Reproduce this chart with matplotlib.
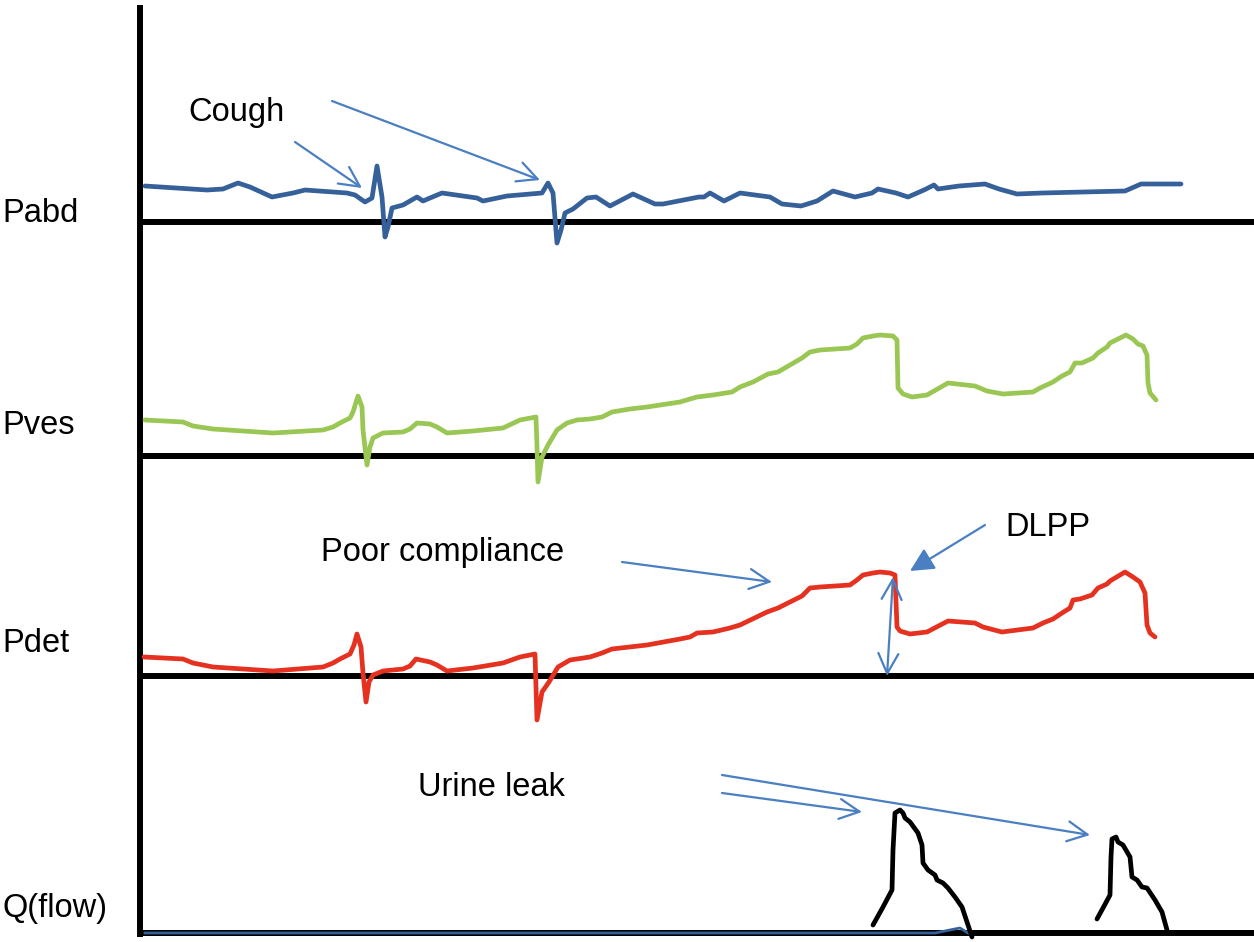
import matplotlib.pyplot as plt

# --- traces (x, y in picture pixels, y downwards) ---
pabd_x = [145, 207, 223, 238, 250, 272, 293, 305, 347, 355, 365, 372, 377, 382, 385, 388, 392,
          403, 417, 423, 430, 442, 477, 483, 507, 542, 548, 553, 557, 561, 565, 573, 587,
          596, 610, 633, 655, 663, 699, 704, 710, 724, 740, 770, 782, 801, 817, 833, 855,
          872, 878, 896, 908, 924, 934, 938, 959, 985, 999, 1017, 1042, 1125, 1141, 1181]
pabd_y = [186, 190, 189, 183, 187, 197, 193, 190, 193, 195, 202, 198, 166, 197, 237, 227, 208,
          205, 197, 201, 198, 193, 198, 201, 196, 193, 183, 193, 243, 230, 213, 209, 198,
          197, 206, 194, 204, 204, 197, 197, 193, 201, 193, 197, 204, 206, 201, 191, 197,
          193, 189, 193, 197, 190, 185, 189, 186, 184, 189, 194, 193, 191, 184, 184]

pves_x = [145, 183, 193, 213, 273, 323, 333, 340, 350, 353, 358, 362, 363, 367, 370, 373, 383,
          403, 410, 417, 430, 437, 447, 473, 503, 520, 536, 537, 538, 542, 548, 557, 567,
          577, 590, 602, 612, 630, 647, 680, 690, 697, 713, 732, 740, 753, 768, 778, 802,
          810, 820, 850, 857, 863, 873, 880, 893, 897, 898, 903, 912, 927, 948, 975, 987,
          1003, 1033, 1040, 1053, 1062, 1070, 1075, 1082, 1093, 1098, 1107, 1110, 1126,
          1133, 1138, 1143, 1147, 1148, 1150, 1156]
pves_y = [420, 422, 426, 429, 433, 430, 427, 423, 418, 412, 396, 407, 430, 465, 447, 438, 433,
          432, 429, 423, 424, 427, 433, 431, 428, 420, 417, 447, 482, 457, 445, 430, 423,
          420, 419, 417, 412, 409, 407, 402, 399, 397, 395, 392, 387, 382, 374, 372, 358,
          352, 350, 348, 344, 338, 336, 335, 336, 340, 388, 394, 397, 395, 383, 386, 391,
          394, 392, 388, 382, 376, 372, 363, 363, 358, 353, 347, 343, 335,
          339, 344, 346, 355, 383, 393, 400]

pdet_x = [144, 183, 193, 213, 273, 323, 333, 340, 350, 354, 357, 361, 363, 366, 369, 373, 383,
          403, 410, 416, 430, 437, 447, 473, 503, 520, 535, 536, 537, 542, 549, 558, 570,
          590, 602, 612, 647, 680, 690, 697, 713, 730, 740, 767, 778, 802, 810, 820, 850,
          857, 863, 873, 880, 890, 895, 897, 900, 910, 927, 948, 975, 983, 1002, 1033, 1043,
          1053, 1062, 1070, 1073, 1080, 1092, 1098, 1107, 1110, 1125, 1133, 1140, 1145,
          1147, 1150, 1155]
pdet_y = [657, 659, 663, 667, 671, 667, 663, 659, 654, 645, 634, 647, 673, 702, 682, 675, 671,
          669, 666, 659, 662, 665, 671, 668, 663, 657, 654, 687, 720, 692, 682, 667, 660,
          657, 653, 649, 645, 639, 637, 633, 632, 628, 625, 612, 608, 596, 588, 587, 585,
          580, 575, 573, 572, 573, 575, 627, 631, 634, 632, 621, 623, 627, 632, 628, 623,
          619, 613, 608, 600, 599, 595, 588, 584, 581, 572, 577, 582, 593,
          625, 633, 637]

flow1_x = [873, 883, 892, 893, 895, 900, 903, 905, 910, 918, 922, 923, 928, 935, 937, 943,
           948, 955, 962, 967, 972]
flow1_y = [925, 907, 890, 850, 813, 810, 813, 818, 822, 833, 845, 863, 870, 875, 880, 883,
           888, 897, 907, 922, 937]
flow2_x = [1097, 1103, 1110, 1111, 1112, 1116, 1118, 1123, 1130, 1132, 1137, 1142, 1147,
           1155, 1162, 1167]
flow2_y = [919, 908, 895, 857, 839, 837, 842, 845, 857, 877, 880, 887, 888, 900, 912, 930]

base_x = [145, 935, 950, 960, 968]
base_y = [933, 933, 930, 928, 933]

baselines_y = [222, 456, 676, 933]

channel_labels = ["Pabd", "Pves", "Pdet", "Q(flow)"]
channel_label_y = [213, 425, 643, 908]

# annotations: text, text position, arrows (tail -> head)
notes = [("Cough", 188, 112), ("Poor compliance", 321, 553), ("DLPP", 1005, 528),
         ("Urine leak", 418, 788)]
open_arrows = [((295, 142), (362, 188)), ((332, 101), (540, 180)),
               ((622, 562), (772, 582)),
               ((722, 793), (862, 812)), ((722, 775), (1090, 835))]
filled_arrows = [((985, 525), (910, 571))]
double_arrows = [((893, 577), (887, 676))]

BLUE = "#36609A"
GREEN = "#9AC653"
RED = "#E5311F"
ARROW = "#4A7FC1"

fig = plt.figure(figsize=(12.54, 9.42), dpi=100)
ax = fig.add_axes([0, 0, 1, 1])
ax.set_xlim(0, 1254)
ax.set_ylim(942, 0)
ax.axis("off")

# axes frame
ax.plot([140, 140], [5, 937], color="black", lw=4.3, solid_capstyle="butt")
for y in baselines_y:
    ax.plot([140, 1254], [y, y], color="black", lw=4.3, solid_capstyle="butt")

# traces
trace_kw = dict(lw=3.4, solid_joinstyle="round", solid_capstyle="round")
ax.plot(pabd_x, pabd_y, color=BLUE, **trace_kw)
ax.plot(pves_x, pves_y, color=GREEN, **trace_kw)
ax.plot(pdet_x, pdet_y, color=RED, **trace_kw)
ax.plot(base_x, base_y, color=BLUE, lw=2.0)
ax.plot(flow1_x, flow1_y, color="black", **trace_kw)
ax.plot(flow2_x, flow2_y, color="black", **trace_kw)

# labels
for lab, y in zip(channel_labels, channel_label_y):
    ax.text(2, y, lab, fontsize=23.5, family="Liberation Sans", ha="left", va="center")
for txt, x, y in notes:
    ax.text(x, y, txt, fontsize=23.5, family="Liberation Sans", ha="left", va="center")

# arrows
akw = dict(color=ARROW, lw=1.6, mutation_scale=36, shrinkA=0, shrinkB=0)
for (x0, y0), (x1, y1) in open_arrows:
    ax.annotate("", xy=(x1, y1), xytext=(x0, y0), arrowprops=dict(arrowstyle="->", **akw))
for (x0, y0), (x1, y1) in filled_arrows:
    ax.annotate("", xy=(x1, y1), xytext=(x0, y0), arrowprops=dict(arrowstyle="-|>", **akw))
for (x0, y0), (x1, y1) in double_arrows:
    ax.annotate("", xy=(x1, y1), xytext=(x0, y0), arrowprops=dict(arrowstyle="<->", **akw))

fig.savefig("out.png", dpi=100)
